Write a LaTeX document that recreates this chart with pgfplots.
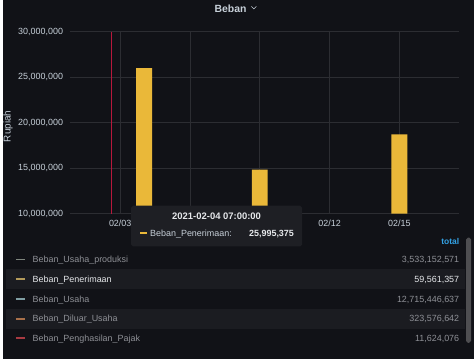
\documentclass[border=0pt]{standalone}
\usepackage{pgfplots}
\pgfplotsset{compat=1.18}
\usepackage{fontspec}
\setmainfont{Liberation Sans}
\definecolor{bg}{HTML}{111217}
\definecolor{gridc}{HTML}{2C2D32}
\definecolor{tickc}{HTML}{C7D0D9}
\definecolor{barc}{HTML}{EAB839}
\definecolor{annred}{HTML}{B8183C}
\definecolor{tipbg}{HTML}{1E1F24}
\definecolor{rowbg}{HTML}{1B1C21}
\definecolor{dimtext}{HTML}{8E9096}
\definecolor{brighttext}{HTML}{E6E8EB}
\definecolor{totalc}{HTML}{33A2E5}
\definecolor{cA}{HTML}{7F867E}
\definecolor{cB}{HTML}{B39A5A}
\definecolor{cC}{HTML}{7F9EA3}
\definecolor{cD}{HTML}{A8704A}
\definecolor{cE}{HTML}{A83A42}
\begin{document}
\begin{tikzpicture}[x=1pt,y=1pt]
\fill[bg] (0,0) rectangle (474,361);
% title
\node[font=\fontsize{10.5}{12}\selectfont\bfseries, text=tickc, anchor=center] at (229,352.5) {Beban};
\draw[tickc, line width=0.6pt] (250,354.5) -- (252.5,352) -- (255,354.5);
\begin{axis}[at={(67pt,146pt)}, anchor=south west, scale only axis,
  width=392pt, height=183pt,
  xmin=0.82, xmax=17.57, ymin=10000000, ymax=30000000,
  xtick={3,6,9,12,15}, xticklabels={02/03,02/06,02/09,02/12,02/15},
  ytick={10000000,15000000,20000000,25000000,30000000},
  scaled y ticks=false,
  yticklabel style={/pgf/number format/fixed, /pgf/number format/1000 sep={,}, /pgf/number format/assume math mode=true},
  grid=major, major grid style={draw=gridc, line width=0.7pt},
  axis line style={draw=none}, tick style={draw=none},
  tick label style={font=\fontsize{9}{10}\selectfont, text=tickc},
  yticklabel style={xshift=-3pt},
  xticklabel style={yshift=-3pt},
  ylabel={Rupiah},
  ylabel style={font=\fontsize{10}{11}\selectfont, text=tickc, at={(axis description cs:-0.158,0.48)}, anchor=center},
  clip=true,
]
\addplot[color=annred, solid, line width=1.4pt, mark=none] coordinates {(2.636,10000000) (2.636,30000000)};
\addplot[ybar, bar width=16pt, fill=barc, draw=none] coordinates {(4.03,25995375) (9.0,14850000) (15.0,18715982)};
\end{axis}
% tooltip
\fill[tipbg, rounded corners=2pt] (129,113) rectangle (301,154);
\node[font=\fontsize{9.5}{11}\selectfont\bfseries, text=brighttext, anchor=center] at (215,143.7) {2021-02-04 07:00:00};
\draw[barc, line width=2.2pt] (138,126.7) -- (145,126.7);
\node[font=\fontsize{9}{10}\selectfont, text=tickc, anchor=base west, inner sep=0] at (148,123.5) {Beban\_Penerimaan:};
\node[font=\fontsize{9}{10}\selectfont\bfseries, text=brighttext, anchor=base east, inner sep=0] at (293,123.5) {25,995,375};
% legend table
\fill[rowbg] (3,70) rectangle (465,90);
\fill[rowbg] (3,30) rectangle (465,50);
\node[font=\fontsize{8.5}{10}\selectfont\bfseries, text=totalc, anchor=base east, inner sep=0] at (459.3,114.5) {total};
\foreach \yy/\cc/\tc/\name/\val in {
  100/cA/dimtext/Beban\_Usaha\_produksi/{3,533,152,571},
  80/cB/brighttext/Beban\_Penerimaan/{59,561,357},
  60.3/cC/dimtext/Beban\_Usaha/{12,715,446,637},
  40.3/cD/dimtext/Beban\_Diluar\_Usaha/{323,576,642},
  21/cE/dimtext/Beban\_Penghasilan\_Pajak/{11,624,076}} {
  \draw[color=\cc, line width=1.6pt] (13,\yy) -- (22,\yy);
  \node[font=\fontsize{9}{10}\selectfont, text=\tc, anchor=base west, inner sep=0] at (29.7,\yy-3.2) {\name};
  \node[font=\fontsize{9}{10}\selectfont, text=\tc, anchor=base east, inner sep=0] at (459.3,\yy-3.2) {\val};
}
% scrollbar
\fill[gray!55!bg, rounded corners=2pt] (466,16) rectangle (471,122);
\end{tikzpicture}
\end{document}
